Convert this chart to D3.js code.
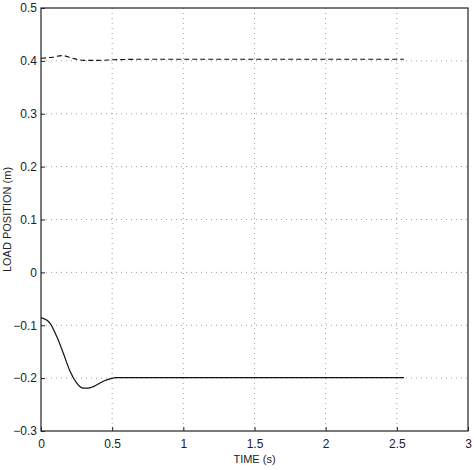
<!DOCTYPE html>
<html><head><meta charset="utf-8">
<script src="https://cdn.jsdelivr.net/npm/d3@7"></script>
<style>body{margin:0;background:#fff}text{font-family:"Liberation Sans",Arial,sans-serif;fill:#222}</style>
</head><body><svg id="chart" width="474" height="470"></svg>
<script>
const xTicks = [0, 0.5, 1, 1.5, 2, 2.5, 3];
const yTicks = [-0.3, -0.2, -0.1, 0, 0.1, 0.2, 0.3, 0.4, 0.5];
// solid curve (lower)
const solidT = [0, 0.016, 0.063, 0.11, 0.157, 0.204, 0.25, 0.297, 0.33, 0.368, 0.438, 0.53, 0.6, 1, 1.5, 2, 2.55];
const solidV = [-0.086, -0.087, -0.096, -0.121, -0.153, -0.187, -0.209, -0.219, -0.219, -0.216, -0.206, -0.199, -0.199, -0.199, -0.199, -0.199, -0.199];
// dashed curve (upper)
const dashT = [0, 0.08, 0.15, 0.22, 0.3, 0.4, 0.5, 0.7, 1, 1.5, 2, 2.55];
const dashV = [0.405, 0.407, 0.41, 0.405, 0.401, 0.401, 0.402, 0.403, 0.403, 0.403, 0.403, 0.403];

const svg = d3.select('#chart');
const L = 41, R = 468, T = 8, B = 431;
const x = d3.scaleLinear().domain([0, 3]).range([L, R]);
const y = d3.scaleLinear().domain([-0.3, 0.5]).range([B, T]);

// grid
const grid = svg.append('g').attr('stroke', '#888').attr('stroke-width', 0.8).attr('stroke-dasharray', '1,4');
xTicks.slice(1, -1).forEach(t => grid.append('line').attr('x1', x(t)).attr('x2', x(t)).attr('y1', T).attr('y2', B));
yTicks.slice(1, -1).forEach(t => grid.append('line').attr('x1', L).attr('x2', R).attr('y1', y(t)).attr('y2', y(t)));

// frame
svg.append('rect').attr('x', L).attr('y', T).attr('width', R - L).attr('height', B - T)
  .attr('fill', 'none').attr('stroke', '#222').attr('stroke-width', 1.2);

const xAxis = svg.append('g').attr('transform', `translate(0,${B})`)
  .call(d3.axisBottom(x).tickValues(xTicks).tickSize(-4).tickPadding(8).tickFormat(d3.format('')));
const yAxis = svg.append('g').attr('transform', `translate(${L},0)`)
  .call(d3.axisLeft(y).tickValues(yTicks).tickSize(-4).tickPadding(4).tickFormat(d => d3.format('')(+d.toFixed(1))));
[xAxis, yAxis].forEach(a => {
  a.select('.domain').remove();
  a.selectAll('line').attr('stroke', '#222');
  a.selectAll('text').attr('font-size', 12).style('fill', '#222');
});

const line = d3.line().curve(d3.curveMonotoneX);
svg.append('path').attr('d', line(solidT.map((t, i) => [x(t), y(solidV[i])])))
  .attr('fill', 'none').attr('stroke', '#111').attr('stroke-width', 1.2);
svg.append('path').attr('d', line(dashT.map((t, i) => [x(t), y(dashV[i])])))
  .attr('fill', 'none').attr('stroke', '#111').attr('stroke-width', 1.1).attr('stroke-dasharray', '5,3');

svg.append('text').attr('x', (L + R) / 2).attr('y', 463).attr('text-anchor', 'middle')
  .attr('font-size', 11).text('TIME (s)');
svg.append('text').attr('transform', `translate(11,${(T + B) / 2}) rotate(-90)`).attr('text-anchor', 'middle')
  .attr('font-size', 11).text('LOAD POSITION (m)');
</script></body></html>
